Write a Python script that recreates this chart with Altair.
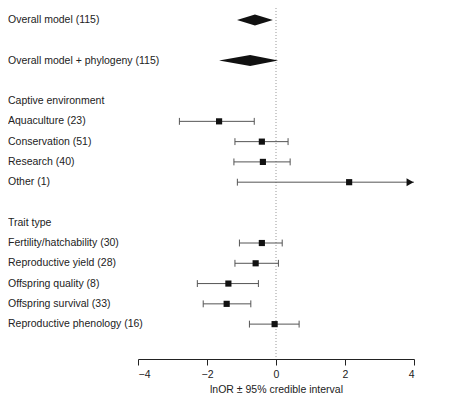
import altair as alt
import pandas as pd

# ---- data ----
overall_labels = ["Overall model (115)", "Overall model + phylogeny (115)"]
overall_rows = [0, 2]
overall_est = [-0.61, -0.75]
overall_lo = [-1.13, -1.65]
overall_hi = [-0.09, 0.06]

header_labels = ["Captive environment", "Trait type"]
header_rows = [4, 10]

mod_labels = [
    "Aquaculture (23)", "Conservation (51)", "Research (40)", "Other (1)",
    "Fertility/hatchability (30)", "Reproductive yield (28)",
    "Offspring quality (8)", "Offspring survival (33)",
    "Reproductive phenology (16)",
]
mod_rows = [5, 6, 7, 8, 11, 12, 13, 14, 15]
mod_est = [-1.65, -0.41, -0.38, 2.12, -0.41, -0.59, -1.38, -1.43, -0.04]
mod_lo = [-2.80, -1.19, -1.22, -1.12, -1.06, -1.19, -2.28, -2.11, -0.77]
mod_hi = [-0.63, 0.35, 0.41, 4.0, 0.18, 0.07, -0.51, -0.73, 0.67]
mod_truncated = [False, False, False, True, False, False, False, False, False]

x_ticks = [-4, -2, 0, 2, 4]

FONT = "Liberation Sans"
FS = 10.5
DIAMOND_H = 0.27
CAP_H = 0.17

# ---- tables ----
diamond_rows = []
for lab, r, e, lo, hi in zip(overall_labels, overall_rows, overall_est, overall_lo, overall_hi):
    diamond_rows.append(dict(label=lab, x=lo, y=r, y2=r))
    diamond_rows.append(dict(label=lab, x=e, y=r - DIAMOND_H, y2=r + DIAMOND_H))
    diamond_rows.append(dict(label=lab, x=hi, y=r, y2=r))
diamonds = pd.DataFrame(diamond_rows)

mods = pd.DataFrame(dict(label=mod_labels, row=mod_rows, est=mod_est, lo=mod_lo,
                         hi=mod_hi, trunc=mod_truncated))
mods["ctop"] = mods["row"] - CAP_H
mods["cbot"] = mods["row"] + CAP_H

caps_left = mods[["lo", "ctop", "cbot"]].rename(columns={"lo": "x"})
caps_right = mods[~mods["trunc"]][["hi", "ctop", "cbot"]].rename(columns={"hi": "x"})
caps = pd.concat([caps_left, caps_right], ignore_index=True)
arrows = mods[mods["trunc"]]

text_df = pd.DataFrame(dict(
    label=overall_labels + header_labels + mod_labels,
    row=overall_rows + header_rows + mod_rows,
))

xscale = alt.Scale(domain=[-4, 4], nice=False, zero=False)
yscale = alt.Scale(domain=[-0.59, 16.72], nice=False, zero=False, reverse=True)

xaxis = alt.Axis(values=x_ticks, title="lnOR ± 95% credible interval", grid=False,
                 tickSize=6, labelPadding=4, domainColor="#222", tickColor="#222",
                 labelColor="#222", titleColor="#222", labelFont=FONT, titleFont=FONT,
                 labelFontSize=FS, titleFontSize=FS, titleFontWeight="normal",
                 titlePadding=5, domainWidth=1, tickWidth=1)

x_enc = alt.X("x:Q", scale=xscale, axis=xaxis)
y_none = alt.Y("y:Q", scale=yscale, axis=None)

zero_line = alt.Chart(pd.DataFrame({"x": [0]})).mark_rule(
    color="#999", strokeDash=[1, 2], strokeWidth=1
).encode(x=x_enc)

diamond_layer = alt.Chart(diamonds).mark_area(color="#111", orient="vertical", opacity=1).encode(
    x=alt.X("x:Q", scale=xscale, axis=xaxis),
    y=y_none,
    y2="y2:Q",
    detail="label:N",
)

ci_layer = alt.Chart(mods).mark_rule(color="#555", strokeWidth=1).encode(
    x=alt.X("lo:Q", scale=xscale, axis=xaxis),
    x2="hi:Q",
    y=alt.Y("row:Q", scale=yscale, axis=None),
)

cap_layer = alt.Chart(caps).mark_rule(color="#555", strokeWidth=1).encode(
    x=alt.X("x:Q", scale=xscale, axis=xaxis),
    y=alt.Y("ctop:Q", scale=yscale, axis=None),
    y2="cbot:Q",
)

point_layer = alt.Chart(mods).mark_square(color="#111", size=38, opacity=1).encode(
    x=alt.X("est:Q", scale=xscale, axis=xaxis),
    y=alt.Y("row:Q", scale=yscale, axis=None),
)

arrow_layer = alt.Chart(arrows).mark_point(
    shape="triangle-right", filled=True, color="#111", size=64, opacity=1, xOffset=-4
).encode(
    x=alt.X("hi:Q", scale=xscale, axis=xaxis),
    y=alt.Y("row:Q", scale=yscale, axis=None),
)

text_layer = alt.Chart(text_df).mark_text(
    align="left", baseline="middle", font=FONT, fontSize=FS, color="#222"
).encode(
    x=alt.value(-130),
    y=alt.Y("row:Q", scale=yscale, axis=None),
    text="label:N",
)

chart = alt.layer(
    zero_line, diamond_layer, ci_layer, cap_layer, point_layer, arrow_layer, text_layer
).properties(
    width=276, height=351,
    autosize=alt.AutoSizeParams(type="none"),
    padding={"left": 130, "top": 0, "right": 50, "bottom": 38},
).configure_view(stroke=None)

chart.save("out.html", embed_options={"renderer": "svg", "actions": False})
